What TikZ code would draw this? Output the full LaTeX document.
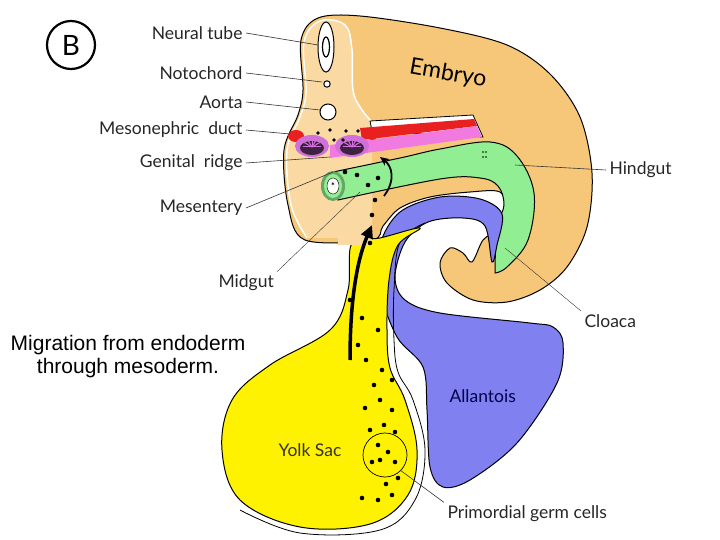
\documentclass[tikz,border=0pt]{standalone}
\usepackage{fontspec}
\setmainfont{Lato}
\newfontfamily\arial{Liberation Sans}
\usetikzlibrary{arrows.meta}
\definecolor{body}{HTML}{F6C778}
\definecolor{sect}{HTML}{FAD9A2}
\definecolor{gut}{HTML}{92EE92}
\definecolor{allan}{HTML}{8080F0}
\definecolor{pinkd}{HTML}{F07AE0}
\definecolor{redd}{HTML}{E82020}
\definecolor{genr}{HTML}{D070D8}
\begin{document}
\begin{tikzpicture}[x=1pt,y=-1pt,
  lab/.style={font=\fontsize{17.5}{20}\selectfont, text=black!85},
  lead/.style={draw=black!80, line width=0.6pt},
  outl/.style={draw=black, line width=1pt}]
\useasboundingbox (0,0) rectangle (720,540);
% embryo body
\fill[body, outl] plot[smooth cycle, tension=0.55] coordinates {
  (305,240) (288,205) (284,150) (298,115) (303,90) (301,40) (318,18) (360,16)
  (440,28) (507,45) (550,74) (580,117) (592,173) (587,227) (567,267) (540,290)
  (507,302) (473,300) (447,283) (440,263) (450,248) (463,253) (472,262) (483,240)
  (497,230) (505,210) (500,192) (470,192) (430,197) (400,208) (383,226) (372,240)};
% cross-section
\fill[sect] plot[smooth, tension=0.6] coordinates {
  (307,238) (291,205) (287,150) (300,117) (306,92) (304,42) (320,21) (345,25) (352,50) (354,95) (372,122)}
  -- (372,238) -- cycle;
\draw[white, line width=1.5pt] plot[smooth, tension=0.6] coordinates {
  (307,238) (291,205) (287,150) (300,117) (306,92) (304,42) (320,21) (345,25) (352,50) (354,95) (372,122)};
% roof of gut region
\fill[white, draw=black, line width=0.8pt] (370,121) -- (473,115) -- (483,137) -- (372,131) -- cycle;
\fill[redd] (360,128) -- (474,119) -- (477,126) -- (362,140) -- cycle;
\fill[pinkd] (330,145) -- (477,126) -- (482,137) -- (330,158) -- cycle;
% hindgut
\fill[gut, outl] plot[smooth, tension=0.6] coordinates {
  (333,172) (400,158) (440,149) (490,142) (517,156) (534,193) (528,240) (507,267) (495,273)}
  -- plot[smooth, tension=0.6] coordinates {(495,268) (497,227) (504,205) (498,186) (480,178) (440,179) (338,200)} -- cycle;
\fill (483,152) circle (0.9) (483,157) circle (0.9) (486,152) circle (0.9) (486,157) circle (0.9);
\fill[gut!70!black] (333,186) ellipse (12 and 15);
\fill[gut] (333,186) ellipse (9 and 12);
\fill[white, draw=black] (333,186) ellipse (6 and 8);
\node[font=\bfseries\small] (lum) at (333,186) {*};
% allantois
\fill[allan, outl] plot[smooth cycle, tension=0.55] coordinates {
  (502,214) (480,199) (440,197) (400,212) (380,245) (380,290) (397,337) (423,367)
  (427,410) (430,467) (443,487) (470,480) (517,443) (557,383) (563,343) (553,327)
  (530,323) (440,313) (405,300) (395,277) (405,242) (428,222) (463,218) (485,226) (492,262) (497,245)};
% yolk sac
\draw[black, line width=0.8pt] plot[smooth, tension=0.6] coordinates {
  (425,223) (400,242) (394,290) (394,340) (398,372) (413,400) (425,450) (415,500) (380,530) (300,533) (240,510)};
\fill[yellow, outl] plot[smooth cycle, tension=0.6] coordinates {
  (352,243) (348,290) (330,330) (270,365) (232,400) (222,450) (240,500) (300,527)
  (370,524) (408,495) (417,450) (405,400) (390,368) (387,330) (389,280) (398,245) (420,228) (380,238)};
% neck
\fill[sect] (338,232) rectangle (372,245);
% neural tube etc
\fill[white, outl] (326,47) ellipse (8 and 25);
\draw[black, line width=1.2pt] (326,47) ellipse (3.5 and 10);
\fill[white, outl] (327,84) circle (3.2);
\fill[white, outl] (328,112) circle (8);
% mesonephric ducts and genital ridges
\fill[redd] (296,136) ellipse (8 and 6);
\fill[redd] (372,134) circle (6);
\foreach \cx in {312,352}{
  \fill[genr] (\cx,146) ellipse (17 and 11);
  \fill[black!70!genr] (\cx,148) ellipse (12 and 7);
  \foreach \a in {0,30,...,180}{\draw[genr, line width=1pt] (\cx,147) -- ++(\a:-9);}
}
\foreach \p in {(318,133),(330,130),(346,131),(358,131),(334,140),(343,140)}{\fill \p circle (1.8);}
% dots
\foreach \p in {(345,172),(357,175),(368,185),(378,178),(375,200),(372,215),
  (370,243),(350,300),(362,318),(378,330),(358,345),(366,360),(382,370),(374,385),
  (392,380),(380,400),(365,408),(392,410),(384,425),(370,430),(395,432),(378,445),
  (388,452),(380,460),(395,462),(372,462),(398,478),(386,484),(392,495),(378,500),(362,498)}{
  \fill \p circle (2.3);}
\draw[black, line width=0.7pt] (385,455) circle (22);
% arrows
\draw[line width=3.5pt, -{Triangle[length=13pt,width=12pt]}]
  (350,360) .. controls (350,300) and (357,260) .. (372,225);
\draw[line width=1.8pt, -{Stealth[length=9pt,width=8pt]}]
  (384,196) .. controls (396,180) and (392,166) .. (380,157);
% B
\node[draw, circle, line width=2.2pt, minimum size=48pt, font=\fontsize{28}{30}\selectfont] (B) at (71,45) {B};
% labels
\node[lab, anchor=east] (nt) at (246,33) {Neural tube};
\node[lab, anchor=east] (nc) at (246,73) {Notochord};
\node[lab, anchor=east] (ao) at (246,102) {Aorta};
\node[lab, anchor=east] (md) at (246,130) {Mesonephric\ \ duct};
\node[lab, anchor=east] (gr) at (246,163) {Genital\ \ ridge};
\node[lab, anchor=east] (ms) at (246,208) {Mesentery};
\node[lab, anchor=west] (mg) at (215,283) {Midgut};
\node[lab, anchor=west] (hg) at (606,170) {Hindgut};
\node[lab, anchor=west] (cl) at (581,321) {Cloaca};
\node[lab, anchor=west, text=blue!30!black] (al) at (446,396) {Allantois};
\node[lab, anchor=west, text=black!80] (ys) at (275,450) {Yolk Sac};
\node[lab, anchor=west] (pg) at (444,514) {Primordial germ cells};
\node[font=\fontsize{23}{25}\selectfont, rotate=-10, inner sep=0pt] (em) at (448,74) {Embryo};
\node[font=\arial\fontsize{21}{23}\selectfont, align=center] (mig) at (128,357) {Migration from endoderm\\through mesoderm.};
% leaders
\draw[lead] (nt.east) -- (318,45);
\draw[lead] (nc.east) -- (322,82);
\draw[lead] (ao.east) -- (320,110);
\draw[lead] (md.east) -- (290,134);
\draw[lead] (gr.east) -- (330,157);
\draw[lead] (ms.east) -- (333,172);
\draw[lead, line width=0.4pt] (mg.north east) -- (360,192);
\draw[lead] (hg.west) -- (515,165);
\draw[lead, line width=0.4pt] (cl.north west) -- (505,248);
\draw[lead] (pg.north west) -- (400,470);
\end{tikzpicture}
\end{document}
